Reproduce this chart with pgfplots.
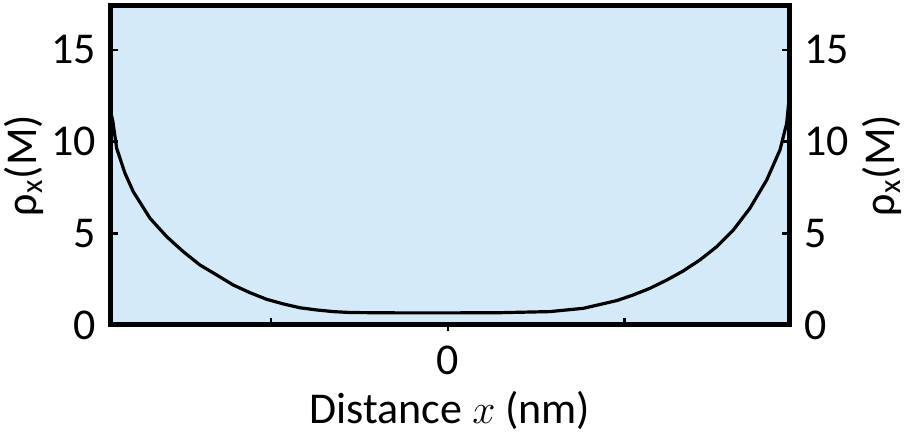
\documentclass[border=0pt]{standalone}
\usepackage{pgfplots}
\pgfplotsset{compat=1.18}
\usepackage{fontspec}
\setmainfont{Carlito}
\definecolor{bgblue}{RGB}{213,234,249}
\pgfplotstableread{
x y
-1.907 11.5
-1.898 11.2
-1.875 9.64
-1.828 8.28
-1.781 7.27
-1.686 5.82
-1.592 4.82
-1.498 4.00
-1.403 3.27
-1.309 2.73
-1.215 2.18
-1.120 1.76
-1.026 1.40
-0.932 1.15
-0.838 0.94
-0.743 0.82
-0.649 0.73
-0.555 0.68
-0.270 0.66
0.010 0.66
0.290 0.67
0.577 0.73
0.766 0.91
0.955 1.33
1.049 1.64
1.143 2.00
1.238 2.45
1.332 2.95
1.426 3.55
1.521 4.27
1.615 5.18
1.709 6.37
1.804 7.91
1.879 9.55
1.917 11.0
1.930 12.3
}\curve
\begin{document}
\fontsize{22}{26}\selectfont
\begin{tikzpicture}
\pgfplotsset{
  common/.style={
    scale only axis, width=339pt, height=159.5pt,
    xmin=-1.907, xmax=1.93, ymin=0, ymax=17.4,
    /pgf/number format/assume math mode=true,
    ticklabel style={font=\fontsize{22}{26}\selectfont},
    ytick={0,5,10,15},
  }
}
\begin{axis}[common, name=ax,
  axis background/.style={fill=bgblue},
  axis line style={line width=2.5pt, line cap=rect},
  tick align=inside,
  major tick length=3.5pt,
  tick style={line width=1.2pt, black},
  ytick pos=both, yticklabel pos=left,
  xtick={-1,1}, xticklabels={,},
  xtick pos=bottom,
  extra x ticks={0}, extra x tick labels={0},
  extra x tick style={tick align=outside, major tick length=3pt},
  xlabel={Distance $x$ (nm)},
  xlabel style={at={(axis description cs:0.5,-0.268)}, anchor=center, inner sep=0pt, font=\fontsize{22}{26}\selectfont},
  ylabel={ρ\textsubscript{x}(M)},
  ylabel style={at={(axis description cs:-0.128,0.5)}, anchor=center, inner sep=0pt, font=\fontsize{22}{26}\selectfont},
]
\addplot[black, line width=1.6pt] table[x=x,y=y] {\curve};
\end{axis}
\begin{axis}[common,
  axis line style={draw=none},
  ytick style={draw=none},
  hide x axis,
  yticklabel pos=right,
]
\end{axis}
\node[rotate=90, anchor=center, inner sep=0pt, font=\fontsize{22}{26}\selectfont] at ([xshift=46.5pt]ax.east) {ρ\textsubscript{x}(M)};
\pgfresetboundingbox
\path[use as bounding box] ([shift={(-55.5pt,-58.5pt)}]ax.south west) rectangle ([shift={(58.5pt,3pt)}]ax.north east);
\end{tikzpicture}
\end{document}
